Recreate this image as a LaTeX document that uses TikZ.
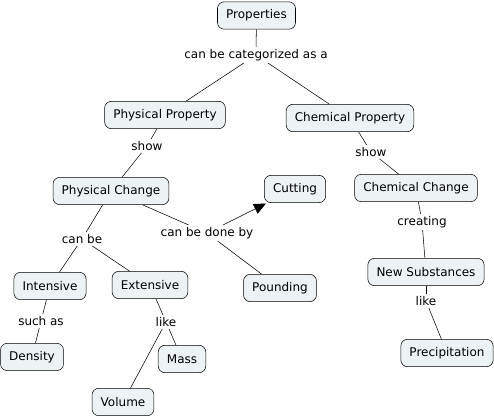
\documentclass[tikz,border=0pt]{standalone}
\usepackage{fontspec}
\setmainfont{DejaVu Sans}
\usetikzlibrary{arrows.meta}
\definecolor{cmapfill}{HTML}{EDF3F4}
\tikzset{
  concept/.style={draw, rounded corners=5pt, fill=cmapfill, font=\fontsize{9}{11}\selectfont,
    inner xsep=6.5pt, minimum height=20.5pt},
  link/.style={font=\fontsize{9}{11}\selectfont, inner sep=1.5pt},
}
\begin{document}
\begin{tikzpicture}[x=0.75pt, y=-0.75pt, thin]
      \useasboundingbox (0,0) rectangle (494,416);
      \draw
        (256.5,15.5) node[concept] (props){Properties}
        (165,115) node[concept] (physprop){Physical Property}
        (350,118) node[concept] (chemprop){Chemical Property}
        (111,191) node[concept] (physchg){Physical Change}
        (295,189) node[concept] (cut){Cutting}
        (416,188) node[concept] (chemchg){Chemical Change}
        (50,286) node[concept] (intens){Intensive}
        (150,285) node[concept] (extens){Extensive}
        (280,288) node[concept] (pound){Pounding}
        (426,272) node[concept] (newsub){New Substances}
        (32,357) node[concept] (dens){Density}
        (182,359) node[concept] (mass){Mass}
        (123,402) node[concept] (vol){Volume}
        (447,353) node[concept] (precip){Precipitation};
      \draw
        (256,55) node[link] (catas){can be categorized as a}
        (147,146) node[link] (show1){show}
        (371,152) node[link] (show2){show}
        (82,239) node[link] (canbe){can be}
        (207,233) node[link] (doneby){can be done by}
        (422,222) node[link] (creating){creating}
        (41,321) node[link] (suchas){such as}
        (166,322) node[link] (like1){like}
        (426,301) node[link] (like2){like};
      \begin{scope}[-]
        \draw (props) to (catas);
        \draw (catas) to (physprop);
        \draw (catas) to (chemprop);
        \draw (physprop) to (show1);
        \draw (show1) to (physchg);
        \draw (chemprop) to (show2);
        \draw (show2) to (chemchg);
        \draw (physchg) to (canbe);
        \draw (canbe) to (intens);
        \draw (canbe) to (extens);
        \draw (physchg) to (doneby);
        \draw[-{Triangle[length=9pt,width=8pt]}, shorten >=1pt] (doneby) to (cut);
        \draw (doneby) to (pound);
        \draw (intens) to (suchas);
        \draw (suchas) to (dens);
        \draw (extens) to (like1);
        \draw (like1) to (mass);
        \draw (like1) to (vol);
        \draw (chemchg) to (creating);
        \draw (creating) to (newsub);
        \draw (newsub) to (like2);
        \draw (like2) to (precip);
      \end{scope}
    \end{tikzpicture}
\end{document}
